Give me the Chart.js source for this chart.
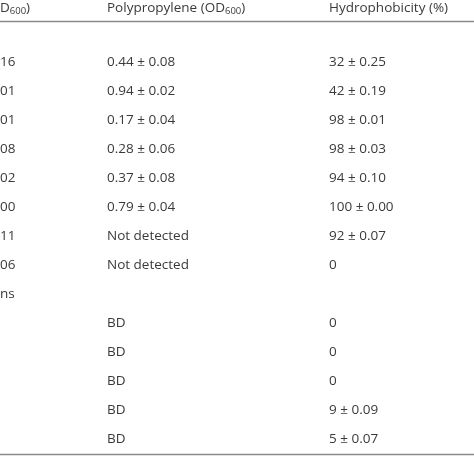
<!DOCTYPE html>
<html><head><meta charset="utf-8">
<script src="https://cdn.jsdelivr.net/npm/chart.js@4"></script>
<style>html,body{margin:0;padding:0;background:#fff}#w{width:474px;height:474px}</style>
</head><body><div id="w"><canvas id="c"></canvas></div>
<script>
const headers = [['D','600',')'], ['Polypropylene (OD','600',')'], ['Hydrophobicity (%)','','']];
const col1 = ['16','01','01','08','02','00','11','06','ns','','','','',''];
const col2 = ['0.44 ± 0.08','0.94 ± 0.02','0.17 ± 0.04','0.28 ± 0.06','0.37 ± 0.08','0.79 ± 0.04','Not detected','Not detected','','BD','BD','BD','BD','BD'];
const col3 = ['32 ± 0.25','42 ± 0.19','98 ± 0.01','98 ± 0.03','94 ± 0.10','100 ± 0.00','92 ± 0.07','0','','0','0','0','9 ± 0.09','5 ± 0.07'];
const columns = [col1, col2, col3];
const colX = [0, 107, 329];
const HEADER_ROW = -1.86, RULE_TOP = -1.41, RULE_BOTTOM = 13.52;
const FONT = '"Open Sans", "Noto Sans", sans-serif';
const COLOR = '#3a3a3a';

const points = [];
columns.forEach((col, ci) => col.forEach((t, ri) => { if (t) points.push({x: colX[ci], y: ri, t}); }));

const tablePlugin = {
  id: 'table',
  afterDatasetsDraw(chart) {
    const {ctx, scales: {x, y}} = chart;
    ctx.save();
    ctx.fillStyle = COLOR;
    ctx.textBaseline = 'middle';
    ctx.textAlign = 'left';
    ctx.font = '13.5px ' + FONT;
    points.forEach(p => ctx.fillText(p.t, x.getPixelForValue(p.x), y.getPixelForValue(p.y)));
    // headers with subscripts
    const hy = y.getPixelForValue(HEADER_ROW);
    headers.forEach((h, i) => {
      let px = x.getPixelForValue(colX[i]);
      ctx.font = '13.5px ' + FONT;
      ctx.fillText(h[0], px, hy); px += ctx.measureText(h[0]).width;
      if (h[1]) { ctx.font = '9.5px ' + FONT; ctx.fillText(h[1], px, hy + 3); px += ctx.measureText(h[1]).width; }
      ctx.font = '13.5px ' + FONT;
      if (h[2]) ctx.fillText(h[2], px, hy);
    });
    ctx.strokeStyle = '#8a8a8a';
    ctx.lineWidth = 1.5;
    [RULE_TOP, RULE_BOTTOM].forEach(r => {
      const py = Math.round(y.getPixelForValue(r)) + 0.5;
      ctx.beginPath(); ctx.moveTo(0, py); ctx.lineTo(474, py); ctx.stroke();
    });
    ctx.restore();
  }
};

new Chart(document.getElementById('c'), {
  type: 'scatter',
  data: { datasets: [{ data: points, pointRadius: 0, pointHoverRadius: 0 }] },
  options: {
    responsive: true, maintainAspectRatio: false, animation: false,
    layout: { padding: 0 },
    plugins: { legend: { display: false }, tooltip: { enabled: false } },
    events: [],
    scales: {
      x: { type: 'linear', min: 0, max: 474, display: false },
      y: { type: 'linear', min: -62/29, max: (474-62)/29, reverse: true, display: false }
    }
  },
  plugins: [tablePlugin]
});
</script></body></html>
